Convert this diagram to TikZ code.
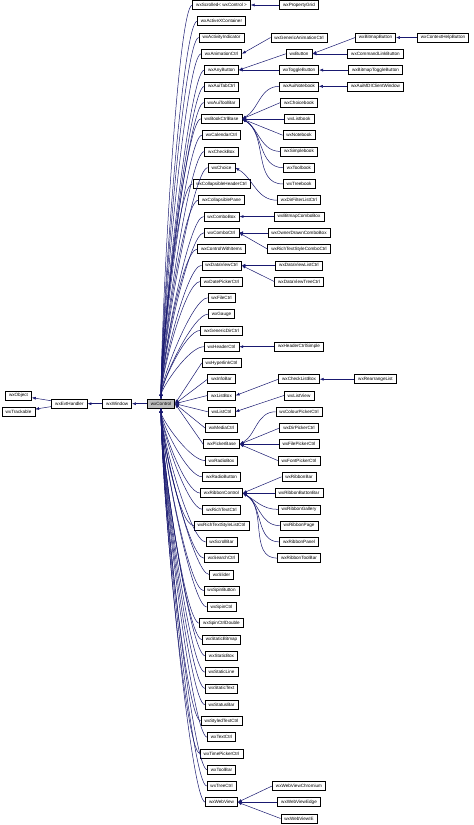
\documentclass[tikz,border=0pt]{standalone}
\usepackage{fontspec}
\setmainfont{Liberation Sans}
\usepackage{xcolor}
\usepackage{tikz}
\usetikzlibrary{arrows.meta, positioning, calc}
\definecolor{edgeblue}{HTML}{191970}

\begin{document}
\begin{tikzpicture}[x=2pt, y=2pt, node distance=13.34pt, >={Latex[length=8pt,width=6pt]}]
        \tikzstyle{cls} = [rectangle, draw=black, fill=white, line width=1.2pt, minimum height=18pt, inner xsep=7pt, inner ysep=0pt, font=\fontsize{9.2}{10}\selectfont]
        \tikzstyle{mainclass} = [cls, fill=black!25]
        \tikzstyle{edge} = [->, draw=edgeblue, line width=1pt]
        \tikzstyle{toctrl} = [to path={.. controls ($(\tikztostart)+(-15,0)$) and ($(\tikztotarget)!0.2!(\tikztotarget |- \tikztostart)$) .. (\tikztotarget)}]

        \useasboundingbox (0,0) rectangle (474,-825);

        \coordinate (colB) at (299,0);
        \coordinate (colC) at (375.5,0);
        \coordinate (colD) at (443,0);

        % direct subclasses
        \node (scrolled) [cls] at (221.5,-5) {wxScrolled< wxControl >};
        \node (activex) [cls, below=of scrolled] {wxActiveXContainer};
        \node (activity) [cls, below=of activex] {wxActivityIndicator};
        \node (animation) [cls, below=of activity] {wxAnimationCtrl};
        \node (anybutton) [cls, below=of animation] {wxAnyButton};
        \node (auitab) [cls, below=of anybutton] {wxAuiTabCtrl};
        \node (auitoolbar) [cls, below=of auitab] {wxAuiToolBar};
        \node (bookctrl) [cls, below=of auitoolbar] {wxBookCtrlBase};
        \node (calendar) [cls, below=of bookctrl] {wxCalendarCtrl};
        \node (checkbox) [cls, below=of calendar] {wxCheckBox};
        \node (choice) [cls, below=of checkbox] {wxChoice};
        \node (collheader) [cls, below=of choice] {wxCollapsibleHeaderCtrl};
        \node (collpane) [cls, below=of collheader] {wxCollapsiblePane};
        \node (combobox) [cls, below=of collpane] {wxComboBox};
        \node (comboctrl) [cls, below=of combobox] {wxComboCtrl};
        \node (ctrlitems) [cls, below=of comboctrl] {wxControlWithItems};
        \node (dataview) [cls, below=of ctrlitems] {wxDataViewCtrl};
        \node (datepicker) [cls, below=of dataview] {wxDatePickerCtrl};
        \node (filectrl) [cls, below=of datepicker] {wxFileCtrl};
        \node (gauge) [cls, below=of filectrl] {wxGauge};
        \node (gendir) [cls, below=of gauge] {wxGenericDirCtrl};
        \node (header) [cls, below=of gendir] {wxHeaderCtrl};
        \node (hyperlink) [cls, below=of header] {wxHyperlinkCtrl};
        \node (infobar) [cls, below=of hyperlink] {wxInfoBar};
        \node (listbox) [cls, below=of infobar] {wxListBox};
        \node (listctrl) [cls, below=of listbox] {wxListCtrl};
        \node (media) [cls, below=of listctrl] {wxMediaCtrl};
        \node (picker) [cls, below=of media] {wxPickerBase};
        \node (radiobox) [cls, below=of picker] {wxRadioBox};
        \node (radiobutton) [cls, below=of radiobox] {wxRadioButton};
        \node (ribbon) [cls, below=of radiobutton] {wxRibbonControl};
        \node (richtext) [cls, below=of ribbon] {wxRichTextCtrl};
        \node (rtstylelist) [cls, below=of richtext] {wxRichTextStyleListCtrl};
        \node (scrollbar) [cls, below=of rtstylelist] {wxScrollBar};
        \node (search) [cls, below=of scrollbar] {wxSearchCtrl};
        \node (slider) [cls, below=of search] {wxSlider};
        \node (spinbutton) [cls, below=of slider] {wxSpinButton};
        \node (spinctrl) [cls, below=of spinbutton] {wxSpinCtrl};
        \node (spindouble) [cls, below=of spinctrl] {wxSpinCtrlDouble};
        \node (staticbitmap) [cls, below=of spindouble] {wxStaticBitmap};
        \node (staticbox) [cls, below=of staticbitmap] {wxStaticBox};
        \node (staticline) [cls, below=of staticbox] {wxStaticLine};
        \node (statictext) [cls, below=of staticline] {wxStaticText};
        \node (statusbar) [cls, below=of statictext] {wxStatusBar};
        \node (styledtext) [cls, below=of statusbar] {wxStyledTextCtrl};
        \node (textctrl) [cls, below=of styledtext] {wxTextCtrl};
        \node (timepicker) [cls, below=of textctrl] {wxTimePickerCtrl};
        \node (toolbar) [cls, below=of timepicker] {wxToolBar};
        \node (treectrl) [cls, below=of toolbar] {wxTreeCtrl};
        \node (webview) [cls, below=of treectrl] {wxWebView};

        % base classes
        \node (ctrl) [mainclass] at (161,-403.7) {wxControl};
        \node (window) [cls, left=30pt of ctrl] {wxWindow};
        \node (evthandler) [cls, left=30pt of window] {wxEvtHandler};
        \node (object) [cls] at (18.5,-395.5) {wxObject};
        \node (trackable) [cls, below=of object] {wxTrackable};

        % deeper subclasses
        \node (propgrid) [cls] at (colB |- scrolled) {wxPropertyGrid};
        \node (genanim) [cls] at (colB |- activity) {wxGenericAnimationCtrl};
        \node (bmpbutton) [cls] at (colC |- activity) {wxBitmapButton};
        \node (ctxhelp) [cls] at (colD |- activity) {wxContextHelpButton};
        \node (button) [cls] at (colB |- animation) {wxButton};
        \node (cmdlink) [cls] at (colC |- animation) {wxCommandLinkButton};
        \node (toggle) [cls] at (colB |- anybutton) {wxToggleButton};
        \node (bmptoggle) [cls] at (colC |- anybutton) {wxBitmapToggleButton};
        \node (auinotebook) [cls] at (colB |- auitab) {wxAuiNotebook};
        \node (auimdi) [cls] at (colC |- auitab) {wxAuiMDIClientWindow};
        \node (choicebook) [cls] at (colB |- auitoolbar) {wxChoicebook};
        \node (listbook) [cls] at (colB |- bookctrl) {wxListbook};
        \node (notebook) [cls] at (colB |- calendar) {wxNotebook};
        \node (simplebook) [cls] at (colB |- checkbox) {wxSimplebook};
        \node (toolbook) [cls] at (colB |- choice) {wxToolbook};
        \node (treebook) [cls] at (colB |- collheader) {wxTreebook};
        \node (dirfilter) [cls] at (colB |- collpane) {wxDirFilterListCtrl};
        \node (bmpcombo) [cls] at (colB |- combobox) {wxBitmapComboBox};
        \node (ownerdrawn) [cls] at (colB |- comboctrl) {wxOwnerDrawnComboBox};
        \node (rtstylecombo) [cls] at (colB |- ctrlitems) {wxRichTextStyleComboCtrl};
        \node (dvlist) [cls] at (colB |- dataview) {wxDataViewListCtrl};
        \node (dvtree) [cls] at (colB |- datepicker) {wxDataViewTreeCtrl};
        \node (headersimple) [cls] at (colB |- header) {wxHeaderCtrlSimple};
        \node (checklist) [cls] at (colB |- infobar) {wxCheckListBox};
        \node (rearrange) [cls] at (colC |- infobar) {wxRearrangeList};
        \node (listview) [cls] at (colB |- listbox) {wxListView};
        \node (colourpicker) [cls] at (colB |- listctrl) {wxColourPickerCtrl};
        \node (dirpicker) [cls] at (colB |- media) {wxDirPickerCtrl};
        \node (filepicker) [cls] at (colB |- picker) {wxFilePickerCtrl};
        \node (fontpicker) [cls] at (colB |- radiobox) {wxFontPickerCtrl};
        \node (ribbonbar) [cls] at (colB |- radiobutton) {wxRibbonBar};
        \node (ribbonbtn) [cls] at (colB |- ribbon) {wxRibbonButtonBar};
        \node (ribbongallery) [cls] at (colB |- richtext) {wxRibbonGallery};
        \node (ribbonpage) [cls] at (colB |- rtstylelist) {wxRibbonPage};
        \node (ribbonpanel) [cls] at (colB |- scrollbar) {wxRibbonPanel};
        \node (ribbontool) [cls] at (colB |- search) {wxRibbonToolBar};
        \node (wvchromium) [cls] at (colB |- treectrl) {wxWebViewChromium};
        \node (wvedge) [cls] at (colB |- webview) {wxWebViewEdge};
        \node (wvie) [cls, below=of wvedge] {wxWebViewIE};

        \draw [edge] (evthandler) -- (object);
        \draw [edge] (evthandler) -- (trackable);
        \draw [edge] (window) -- (evthandler);
        \draw [edge] (ctrl) -- (window);

        % into wxControl
        \draw [edge] (scrolled.west) to[toctrl] (ctrl.north);
        \draw [edge] (activex.west) to[toctrl] (ctrl.north);
        \draw [edge] (activity.west) to[toctrl] (ctrl.north);
        \draw [edge] (animation.west) to[toctrl] (ctrl.north);
        \draw [edge] (anybutton.west) to[toctrl] (ctrl.north);
        \draw [edge] (auitab.west) to[toctrl] (ctrl.north);
        \draw [edge] (auitoolbar.west) to[toctrl] (ctrl.north);
        \draw [edge] (bookctrl.west) to[toctrl] (ctrl.north);
        \draw [edge] (calendar.west) to[toctrl] (ctrl.north);
        \draw [edge] (checkbox.west) to[toctrl] (ctrl.north);
        \draw [edge] (choice.west) to[toctrl] (ctrl.north);
        \draw [edge] (collheader.west) to[toctrl] (ctrl.north);
        \draw [edge] (collpane.west) to[toctrl] (ctrl.north);
        \draw [edge] (combobox.west) to[toctrl] (ctrl.north);
        \draw [edge] (comboctrl.west) to[toctrl] (ctrl.north);
        \draw [edge] (ctrlitems.west) to[toctrl] (ctrl.north);
        \draw [edge] (dataview.west) to[toctrl] (ctrl.north);
        \draw [edge] (datepicker.west) to[toctrl] (ctrl.north);
        \draw [edge] (filectrl.west) to[toctrl] (ctrl.north);
        \draw [edge] (gauge.west) to[toctrl] (ctrl.north);
        \draw [edge] (gendir.west) to[toctrl] (ctrl.north);
        \draw [edge] (header.west) to[toctrl] (ctrl.north);
        \draw [edge] (hyperlink.west) -- (ctrl.east);
        \draw [edge] (infobar.west) -- (ctrl.east);
        \draw [edge] (listbox.west) -- (ctrl.east);
        \draw [edge] (listctrl.west) -- (ctrl.east);
        \draw [edge] (media.west) -- (ctrl.east);
        \draw [edge] (picker.west) -- (ctrl.east);
        \draw [edge] (radiobox.west) to[toctrl] (ctrl.south);
        \draw [edge] (radiobutton.west) to[toctrl] (ctrl.south);
        \draw [edge] (ribbon.west) to[toctrl] (ctrl.south);
        \draw [edge] (richtext.west) to[toctrl] (ctrl.south);
        \draw [edge] (rtstylelist.west) to[toctrl] (ctrl.south);
        \draw [edge] (scrollbar.west) to[toctrl] (ctrl.south);
        \draw [edge] (search.west) to[toctrl] (ctrl.south);
        \draw [edge] (slider.west) to[toctrl] (ctrl.south);
        \draw [edge] (spinbutton.west) to[toctrl] (ctrl.south);
        \draw [edge] (spinctrl.west) to[toctrl] (ctrl.south);
        \draw [edge] (spindouble.west) to[toctrl] (ctrl.south);
        \draw [edge] (staticbitmap.west) to[toctrl] (ctrl.south);
        \draw [edge] (staticbox.west) to[toctrl] (ctrl.south);
        \draw [edge] (staticline.west) to[toctrl] (ctrl.south);
        \draw [edge] (statictext.west) to[toctrl] (ctrl.south);
        \draw [edge] (statusbar.west) to[toctrl] (ctrl.south);
        \draw [edge] (styledtext.west) to[toctrl] (ctrl.south);
        \draw [edge] (textctrl.west) to[toctrl] (ctrl.south);
        \draw [edge] (timepicker.west) to[toctrl] (ctrl.south);
        \draw [edge] (toolbar.west) to[toctrl] (ctrl.south);
        \draw [edge] (treectrl.west) to[toctrl] (ctrl.south);
        \draw [edge] (webview.west) to[toctrl] (ctrl.south);

        % the rest
        \draw [edge] (propgrid) -- (scrolled);
        \draw [edge] (genanim.west) -- (animation.east);
        \draw [edge] (ctxhelp) -- (bmpbutton);
        \draw [edge] (bmpbutton.west) -- (button.east);
        \draw [edge] (cmdlink) -- (button);
        \draw [edge] (button.west) -- (anybutton.east);
        \draw [edge] (toggle) -- (anybutton);
        \draw [edge] (bmptoggle) -- (toggle);
        \draw [edge] (auinotebook.west) to[out=180, in=30] (bookctrl.east);
        \draw [edge] (auimdi) -- (auinotebook);
        \draw [edge] (choicebook.west) -- (bookctrl.east);
        \draw [edge] (listbook) -- (bookctrl);
        \draw [edge] (notebook.west) -- (bookctrl.east);
        \draw [edge] (simplebook.west) to[out=180, in=-30] (bookctrl.east);
        \draw [edge] (toolbook.west) to[out=180, in=-30] (bookctrl.east);
        \draw [edge] (treebook.west) to[out=180, in=-30] (bookctrl.east);
        \draw [edge] (dirfilter.west) to[out=180, in=-30] (choice.east);
        \draw [edge] (bmpcombo) -- (combobox);
        \draw [edge] (ownerdrawn) -- (comboctrl);
        \draw [edge] (rtstylecombo.west) -- (comboctrl.east);
        \draw [edge] (dvlist) -- (dataview);
        \draw [edge] (dvtree.west) -- (dataview.east);
        \draw [edge] (headersimple) -- (header);
        \draw [edge] (checklist.west) -- (listbox.east);
        \draw [edge] (rearrange) -- (checklist);
        \draw [edge] (listview.west) -- (listctrl.east);
        \draw [edge] (colourpicker.west) to[out=180, in=30] (picker.east);
        \draw [edge] (dirpicker.west) -- (picker.east);
        \draw [edge] (filepicker) -- (picker);
        \draw [edge] (fontpicker.west) -- (picker.east);
        \draw [edge] (ribbonbar.west) -- (ribbon.east);
        \draw [edge] (ribbonbtn) -- (ribbon);
        \draw [edge] (ribbongallery.west) to[out=180, in=-30] (ribbon.east);
        \draw [edge] (ribbonpage.west) to[out=180, in=-30] (ribbon.east);
        \draw [edge] (ribbonpanel.west) to[out=180, in=-30] (ribbon.east);
        \draw [edge] (ribbontool.west) to[out=180, in=-30] (ribbon.east);
        \draw [edge] (wvchromium.west) -- (webview.east);
        \draw [edge] (wvedge) -- (webview);
        \draw [edge] (wvie.west) -- (webview.east);
    \end{tikzpicture}
\end{document}
